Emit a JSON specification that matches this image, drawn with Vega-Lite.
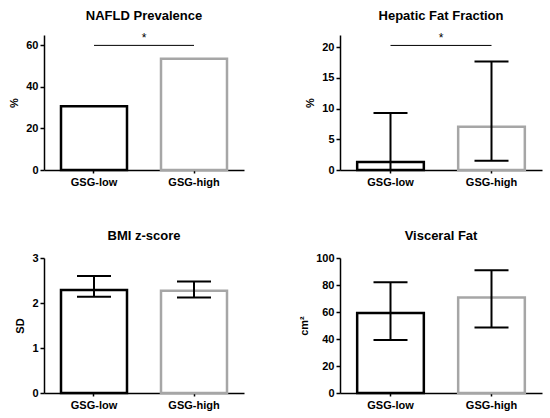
{
  "$schema": "https://vega.github.io/schema/vega-lite/v6.json",
  "padding": {"left": 8, "top": 10, "right": 5, "bottom": 3},
  "columns": 2,
  "spacing": {"row": 43, "column": 54},
  "config": {
    "font": "Liberation Sans",
    "view": {"stroke": null},
    "title": {"fontSize": 13, "fontWeight": "bold", "color": "black", "offset": 9, "font": "Liberation Sans"},
    "axis": {"domainColor": "black", "domainWidth": 1.5, "tickColor": "black", "tickWidth": 1.5, "tickSize": 4, "labelFont": "Liberation Sans", "labelFontSize": 11, "labelFontWeight": "bold", "labelColor": "black", "titleFont": "Liberation Sans", "titleFontSize": 11, "titleFontWeight": "bold", "titleColor": "black", "grid": false, "labelPadding": 2, "titlePadding": 6, "labelOverlap": false},
    "axisX": {"tickSize": 3, "labelPadding": 3, "labelAngle": 0}
  },
  "concat": [
    {
      "title": "NAFLD Prevalence",
      "width": 200, "height": 135,
      "layer": [
        {
          "data": {"values": [{"group": "GSG-low", "mean": 30.7}, {"group": "GSG-high", "mean": 53.6}]},
          "mark": {"type": "bar", "fill": "white", "strokeWidth": 2.5},
          "encoding": {
            "x": {"field": "group", "type": "nominal", "scale": {"domain": ["GSG-low", "GSG-high"], "paddingInner": 0.34, "paddingOuter": 0.17}, "title": null},
            "y": {"field": "mean", "type": "quantitative", "scale": {"domain": [0, 65]}, "axis": {"values": [0, 20, 40, 60], "labelOverlap": false}, "title": "%"},
            "stroke": {"field": "group", "type": "nominal", "scale": {"domain": ["GSG-low", "GSG-high"], "range": ["black", "#a6a6a6"]}, "legend": null}
          }
        },
        {
          "data": {"values": [{"from": "GSG-low", "to": "GSG-high", "y": 60, "label": "*"}]},
          "layer": [
            {
              "mark": {"type": "rule", "strokeWidth": 1, "color": "black"},
              "encoding": {
                "x": {"field": "from", "type": "nominal", "bandPosition": 0.5, "title": null},
                "x2": {"field": "to"},
                "y": {"field": "y", "type": "quantitative", "title": "%", "axis": {"values": [0, 20, 40, 60], "labelOverlap": false}}
              }
            },
            {
              "mark": {"type": "text", "dy": -7, "fontSize": 12, "color": "black"},
              "encoding": {
                "y": {"field": "y", "type": "quantitative", "title": "%", "axis": {"values": [0, 20, 40, 60], "labelOverlap": false}},
                "text": {"field": "label"}
              }
            }
          ]
        }
      ]
    },
    {
      "title": "Hepatic Fat Fraction",
      "width": 202, "height": 135,
      "layer": [
        {
          "data": {"values": [{"group": "GSG-low", "mean": 1.3, "lo": -6.8, "hi": 9.3}, {"group": "GSG-high", "mean": 7.05, "lo": 1.5, "hi": 17.7}]},
          "layer": [
            {
              "mark": {"type": "bar", "fill": "white", "strokeWidth": 2.5},
              "encoding": {
                "x": {"field": "group", "type": "nominal", "scale": {"domain": ["GSG-low", "GSG-high"], "paddingInner": 0.34, "paddingOuter": 0.17}, "title": null},
                "y": {"field": "mean", "type": "quantitative", "scale": {"domain": [0, 22]}, "axis": {"values": [0, 5, 10, 15, 20], "labelOverlap": false}, "title": "%"},
                "stroke": {"field": "group", "type": "nominal", "scale": {"domain": ["GSG-low", "GSG-high"], "range": ["black", "#a6a6a6"]}, "legend": null}
              }
            },
            {
              "mark": {"type": "rule", "strokeWidth": 2, "color": "black", "clip": true},
              "encoding": {
                "x": {"field": "group", "type": "nominal", "title": null},
                "y": {"field": "lo", "type": "quantitative", "title": "%", "axis": {"values": [0, 5, 10, 15, 20], "labelOverlap": false}},
                "y2": {"field": "hi"}
              }
            },
            {
              "mark": {"type": "tick", "thickness": 2, "size": 34, "color": "black", "opacity": 1, "clip": true},
              "encoding": {
                "x": {"field": "group", "type": "nominal", "title": null},
                "y": {"field": "hi", "type": "quantitative", "title": "%", "axis": {"values": [0, 5, 10, 15, 20], "labelOverlap": false}}
              }
            },
            {
              "mark": {"type": "tick", "thickness": 2, "size": 34, "color": "black", "opacity": 1, "clip": true},
              "encoding": {
                "x": {"field": "group", "type": "nominal", "title": null},
                "y": {"field": "lo", "type": "quantitative", "title": "%", "axis": {"values": [0, 5, 10, 15, 20], "labelOverlap": false}}
              }
            }
          ]
        },
        {
          "data": {"values": [{"from": "GSG-low", "to": "GSG-high", "y": 20.3, "label": "*"}]},
          "layer": [
            {
              "mark": {"type": "rule", "strokeWidth": 1, "color": "black"},
              "encoding": {
                "x": {"field": "from", "type": "nominal", "bandPosition": 0.5, "title": null},
                "x2": {"field": "to"},
                "y": {"field": "y", "type": "quantitative", "title": "%", "axis": {"values": [0, 5, 10, 15, 20], "labelOverlap": false}}
              }
            },
            {
              "mark": {"type": "text", "dy": -7, "fontSize": 12, "color": "black"},
              "encoding": {
                "y": {"field": "y", "type": "quantitative", "title": "%", "axis": {"values": [0, 5, 10, 15, 20], "labelOverlap": false}},
                "text": {"field": "label"}
              }
            }
          ]
        }
      ]
    },
    {
      "title": "BMI z-score",
      "width": 200, "height": 135,
      "data": {"values": [{"group": "GSG-low", "mean": 2.29, "lo": 2.14, "hi": 2.6}, {"group": "GSG-high", "mean": 2.27, "lo": 2.12, "hi": 2.48}]},
      "layer": [
        {
          "mark": {"type": "bar", "fill": "white", "strokeWidth": 2.5},
          "encoding": {
            "x": {"field": "group", "type": "nominal", "scale": {"domain": ["GSG-low", "GSG-high"], "paddingInner": 0.34, "paddingOuter": 0.17}, "title": null},
            "y": {"field": "mean", "type": "quantitative", "scale": {"domain": [0, 3]}, "axis": {"values": [0, 1, 2, 3], "labelOverlap": false}, "title": "SD"},
            "stroke": {"field": "group", "type": "nominal", "scale": {"domain": ["GSG-low", "GSG-high"], "range": ["black", "#a6a6a6"]}, "legend": null}
          }
        },
        {
          "mark": {"type": "rule", "strokeWidth": 2, "color": "black"},
          "encoding": {
            "x": {"field": "group", "type": "nominal", "title": null},
            "y": {"field": "lo", "type": "quantitative", "title": "SD", "axis": {"values": [0, 1, 2, 3], "labelOverlap": false}},
            "y2": {"field": "hi"}
          }
        },
        {
          "mark": {"type": "tick", "thickness": 2, "size": 34, "color": "black", "opacity": 1},
          "encoding": {
            "x": {"field": "group", "type": "nominal", "title": null},
            "y": {"field": "hi", "type": "quantitative", "title": "SD", "axis": {"values": [0, 1, 2, 3], "labelOverlap": false}}
          }
        },
        {
          "mark": {"type": "tick", "thickness": 2, "size": 34, "color": "black", "opacity": 1},
          "encoding": {
            "x": {"field": "group", "type": "nominal", "title": null},
            "y": {"field": "lo", "type": "quantitative", "title": "SD", "axis": {"values": [0, 1, 2, 3], "labelOverlap": false}}
          }
        }
      ]
    },
    {
      "title": "Visceral Fat",
      "width": 202, "height": 135,
      "data": {"values": [{"group": "GSG-low", "mean": 59.2, "lo": 39.2, "hi": 82}, {"group": "GSG-high", "mean": 70.7, "lo": 48.5, "hi": 91}]},
      "layer": [
        {
          "mark": {"type": "bar", "fill": "white", "strokeWidth": 2.5},
          "encoding": {
            "x": {"field": "group", "type": "nominal", "scale": {"domain": ["GSG-low", "GSG-high"], "paddingInner": 0.34, "paddingOuter": 0.17}, "title": null},
            "y": {"field": "mean", "type": "quantitative", "scale": {"domain": [0, 100]}, "axis": {"values": [0, 20, 40, 60, 80, 100], "labelOverlap": false}, "title": "cm²"},
            "stroke": {"field": "group", "type": "nominal", "scale": {"domain": ["GSG-low", "GSG-high"], "range": ["black", "#a6a6a6"]}, "legend": null}
          }
        },
        {
          "mark": {"type": "rule", "strokeWidth": 2, "color": "black"},
          "encoding": {
            "x": {"field": "group", "type": "nominal", "title": null},
            "y": {"field": "lo", "type": "quantitative", "title": "cm²", "axis": {"values": [0, 20, 40, 60, 80, 100], "labelOverlap": false}},
            "y2": {"field": "hi"}
          }
        },
        {
          "mark": {"type": "tick", "thickness": 2, "size": 34, "color": "black", "opacity": 1},
          "encoding": {
            "x": {"field": "group", "type": "nominal", "title": null},
            "y": {"field": "hi", "type": "quantitative", "title": "cm²", "axis": {"values": [0, 20, 40, 60, 80, 100], "labelOverlap": false}}
          }
        },
        {
          "mark": {"type": "tick", "thickness": 2, "size": 34, "color": "black", "opacity": 1},
          "encoding": {
            "x": {"field": "group", "type": "nominal", "title": null},
            "y": {"field": "lo", "type": "quantitative", "title": "cm²", "axis": {"values": [0, 20, 40, 60, 80, 100], "labelOverlap": false}}
          }
        }
      ]
    }
  ]
}
